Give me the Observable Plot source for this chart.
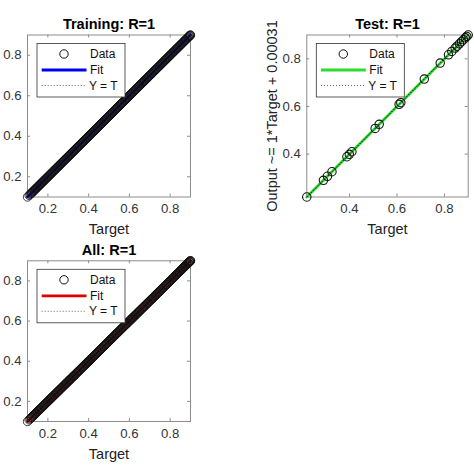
<!DOCTYPE html>
<html><head><meta charset="utf-8">
<script src="https://cdn.jsdelivr.net/npm/d3@7"></script>
<script src="https://cdn.jsdelivr.net/npm/@observablehq/plot@0.6"></script>
<style>
body{margin:0;background:#fff;}
#wrap{position:relative;width:474px;height:474px;overflow:hidden;background:#fff;}
#wrap svg{position:absolute;}
</style></head><body><div id="wrap"></div>
<script>
// ---- data ----
const trainTargets = [0.100, 0.108, 0.113, 0.117, 0.120, 0.122, 0.126, 0.128, 0.131, 0.133, 0.136, 0.139, 0.141, 0.143, 0.147, 0.149, 0.152, 0.156, 0.158, 0.160, 0.163, 0.166, 0.169, 0.171, 0.175, 0.178, 0.180, 0.182, 0.185, 0.188, 0.191, 0.195, 0.197, 0.199, 0.202, 0.205, 0.209, 0.212, 0.214, 0.216, 0.219, 0.222, 0.226, 0.229, 0.231, 0.233, 0.237, 0.240, 0.243, 0.246, 0.249, 0.251, 0.254, 0.257, 0.260, 0.262, 0.266, 0.269, 0.272, 0.275, 0.278, 0.281, 0.284, 0.286, 0.290, 0.293, 0.296, 0.299, 0.302, 0.305, 0.308, 0.310, 0.313, 0.316, 0.320, 0.323, 0.325, 0.328, 0.331, 0.334, 0.338, 0.341, 0.343, 0.346, 0.349, 0.352, 0.355, 0.358, 0.362, 0.365, 0.368, 0.371, 0.373, 0.376, 0.380, 0.383, 0.386, 0.389, 0.392, 0.395, 0.398, 0.401, 0.404, 0.407, 0.410, 0.414, 0.417, 0.419, 0.423, 0.426, 0.428, 0.431, 0.434, 0.437, 0.441, 0.444, 0.446, 0.449, 0.453, 0.456, 0.459, 0.462, 0.464, 0.467, 0.471, 0.474, 0.477, 0.480, 0.483, 0.486, 0.489, 0.491, 0.495, 0.498, 0.500, 0.503, 0.507, 0.510, 0.513, 0.516, 0.518, 0.521, 0.525, 0.528, 0.531, 0.534, 0.537, 0.540, 0.543, 0.545, 0.549, 0.552, 0.555, 0.558, 0.561, 0.564, 0.567, 0.569, 0.573, 0.576, 0.579, 0.582, 0.585, 0.588, 0.590, 0.593, 0.597, 0.600, 0.603, 0.606, 0.608, 0.611, 0.615, 0.618, 0.621, 0.624, 0.627, 0.630, 0.632, 0.635, 0.639, 0.642, 0.645, 0.648, 0.650, 0.653, 0.657, 0.660, 0.663, 0.666, 0.669, 0.672, 0.674, 0.677, 0.681, 0.684, 0.687, 0.690, 0.692, 0.695, 0.699, 0.702, 0.705, 0.708, 0.710, 0.713, 0.717, 0.720, 0.723, 0.726, 0.729, 0.731, 0.734, 0.738, 0.741, 0.744, 0.747, 0.749, 0.753, 0.756, 0.759, 0.762, 0.764, 0.767, 0.771, 0.774, 0.777, 0.780, 0.782, 0.785, 0.789, 0.792, 0.795, 0.798, 0.800, 0.803, 0.807, 0.810, 0.813, 0.816, 0.818, 0.821, 0.825, 0.828, 0.831, 0.834, 0.836, 0.839, 0.843, 0.846, 0.849, 0.852, 0.854, 0.857, 0.861, 0.864, 0.867, 0.870, 0.872, 0.875, 0.879, 0.882, 0.885, 0.888, 0.890, 0.893, 0.895, 0.897, 0.899, 0.900];
const testTargets = [0.220, 0.290, 0.307, 0.326, 0.389, 0.399, 0.410, 0.508, 0.525, 0.609, 0.616, 0.715, 0.782, 0.817, 0.831, 0.845, 0.853, 0.863, 0.872, 0.880, 0.888, 0.894, 0.900];
const allTargets = trainTargets.concat(testTargets);

const panelTitles = ["Training: R=1", "Test: R=1", "All: R=1"];
const fitSlopes = [1, 1, 1];
const fitIntercepts = [0.0001, 0.00031, 0.0001];
const fitColors = ["#0000ee", "#2edc2e", "#e00000"];
const xLabel = "Target";
const testYLabel = "Output ~= 1*Target + 0.00031";
const ticksMain = [0.2, 0.4, 0.6, 0.8];
const ticksTest = [0.4, 0.6, 0.8];
const legendLabels = ["Data", "Fit", "Y = T"];

// ---- layout ----
const FONT = "'Liberation Sans', Arial, sans-serif";
const panels = [
  {data: trainTargets, ticks: ticksMain, left: 0, top: 0, w: 237, h: 237, mL: 27, mR: 47, mT: 34.5, mB: 40.5, ylabel: null},
  {data: testTargets, ticks: ticksTest, left: 237, top: 0, w: 237, h: 237, mL: 69.3, mR: 6.3, mT: 34.5, mB: 40.5, ylabel: testYLabel},
  {data: allTargets, ticks: ticksMain, left: 0, top: 237, w: 237, h: 237, mL: 27, mR: 47, mT: 23.3, mB: 53, ylabel: null}
];

const wrap = document.getElementById("wrap");
const fmt = d3.format(".1f");
const boxColor = "#8c8c8c";

panels.forEach((p, i) => {
  const dom = d3.extent(p.data);
  const bw = p.w - p.mL - p.mR, bh = p.h - p.mT - p.mB;
  const lx = 3 * (dom[1] - dom[0]) / bw;
  const ly = 3 * (dom[1] - dom[0]) / bh;
  const ends = dom;
  const m = fitSlopes[i], b = fitIntercepts[i];
  const dense = i !== 1;
  const marks = [
    Plot.frame({stroke: boxColor, strokeWidth: 1}),
    Plot.ruleX(p.ticks, {x: d => d, y1: dom[0], y2: dom[0] + ly, stroke: boxColor}),
    Plot.ruleX(p.ticks, {x: d => d, y1: dom[1] - ly, y2: dom[1], stroke: boxColor}),
    Plot.ruleY(p.ticks, {y: d => d, x1: dom[0], x2: dom[0] + lx, stroke: boxColor}),
    Plot.ruleY(p.ticks, {y: d => d, x1: dom[1] - lx, x2: dom[1], stroke: boxColor}),
    Plot.axisX({ticks: p.ticks, tickSize: 0, tickPadding: 7, tickFormat: fmt, fontSize: 13.2, fill: "#333", label: null}),
    Plot.axisY({ticks: p.ticks, tickSize: 0, tickPadding: 6, tickFormat: fmt, fontSize: 13.2, fill: "#333", label: null}),
    Plot.line(ends, {x: d => d, y: d => m * d + b, stroke: fitColors[i], strokeWidth: 2.8}),
    Plot.dot(p.data, {x: d => d, y: d => d, r: 4.2, stroke: "#111", fill: "none", strokeWidth: dense ? 0.8 : 1.1}),
    Plot.line(ends, {x: d => d, y: d => d, stroke: "#000", strokeWidth: 0.9, strokeDasharray: "1,2"}),
    Plot.text([panelTitles[i]], {text: d => d, frameAnchor: "top", lineAnchor: "middle", dy: -10.5, fontSize: 14.5, fontWeight: "bold", fill: "#000"}),
    Plot.text([xLabel], {text: d => d, frameAnchor: "bottom", lineAnchor: "middle", dy: 32.5, fontSize: 14.5, fill: "#222"})
  ];
  if (p.ylabel) {
    marks.push(Plot.text([p.ylabel], {text: d => d, frameAnchor: "left", textAnchor: "middle", lineAnchor: "middle", dx: -34.3, rotate: -90, fontSize: 14.5, fill: "#222"}));
  }
  const chart = Plot.plot({
    width: p.w, height: p.h,
    marginLeft: p.mL, marginRight: p.mR, marginTop: p.mT, marginBottom: p.mB,
    x: {domain: dom},
    y: {domain: dom},
    style: {fontFamily: FONT, background: "transparent", overflow: "visible"},
    marks
  });
  chart.style.left = p.left + "px";
  chart.style.top = p.top + "px";
  wrap.appendChild(chart);

  // legend box (not data)
  const svg = d3.select(chart);
  const g = svg.append("g").attr("transform", `translate(${p.mL},${p.mT})`)
    .style("font-family", FONT).style("font-size", "12px").attr("text-anchor", "start");
  g.append("rect").attr("x", 10).attr("y", 9).attr("width", 88).attr("height", 53.5)
    .attr("fill", "#fff").attr("stroke", "#333").attr("stroke-width", 0.8);
  const rows = [19.5, 35.5, 51];
  g.append("circle").attr("cx", 37).attr("cy", rows[0]).attr("r", 4.2).attr("fill", "none").attr("stroke", "#111");
  g.append("line").attr("x1", 14.7).attr("x2", 59.5).attr("y1", rows[1]).attr("y2", rows[1])
    .attr("stroke", fitColors[i]).attr("stroke-width", 2.8);
  g.append("line").attr("x1", 14.7).attr("x2", 59.5).attr("y1", rows[2]).attr("y2", rows[2])
    .attr("stroke", "#555").attr("stroke-width", 0.9).attr("stroke-dasharray", "1,2");
  legendLabels.forEach((t, k) => {
    g.append("text").attr("x", k === 2 ? 62 : 63).attr("y", rows[k]).attr("dy", "0.35em")
      .attr("text-anchor", "start").attr("fill", "#111").text(t);
  });
});
</script></body></html>
